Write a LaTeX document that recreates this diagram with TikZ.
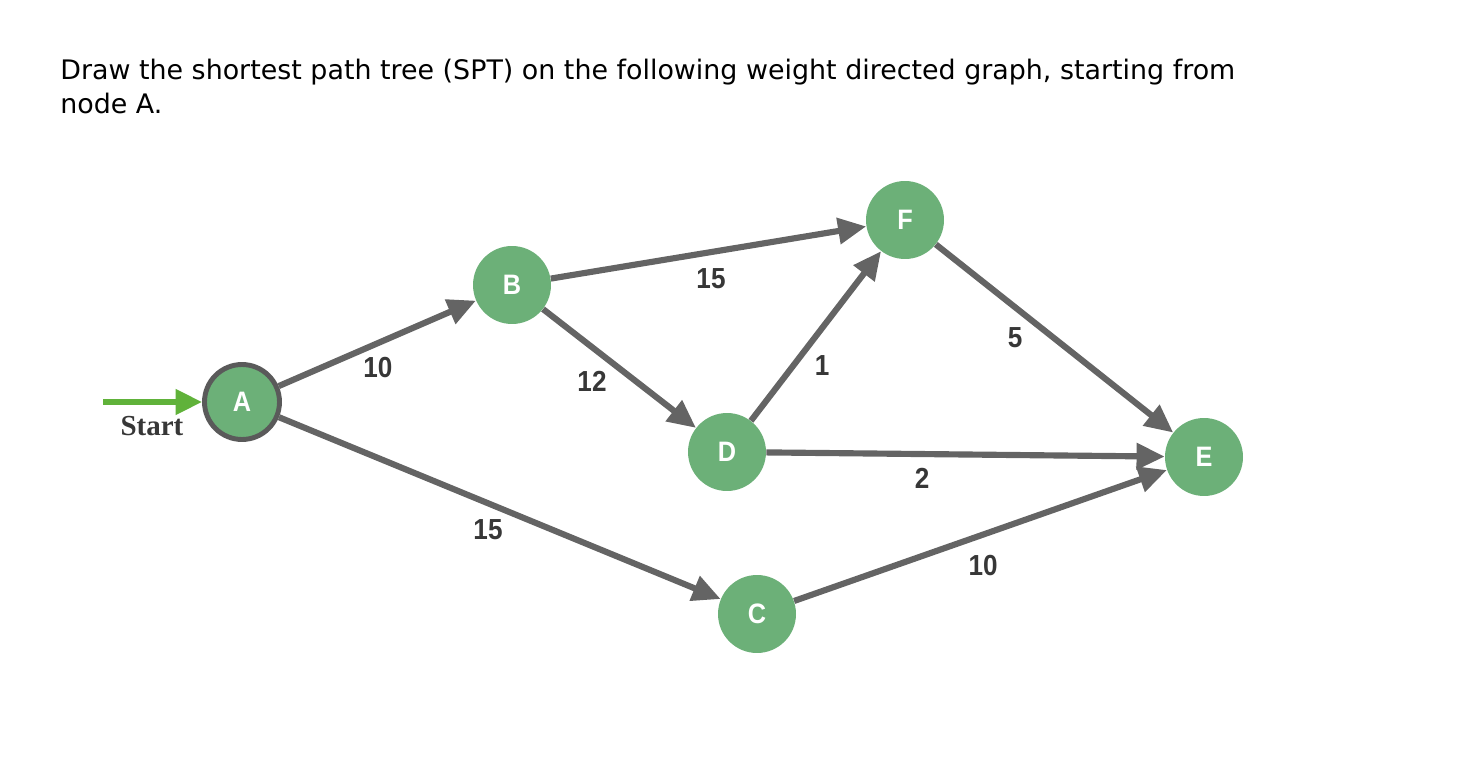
\documentclass[tikz,border=0pt]{standalone}
\usepackage{fontspec}
\setmainfont{DejaVu Sans}
\newfontfamily\lblfont[FakeStretch=0.9]{Liberation Sans}
\newfontfamily\startfont{Liberation Serif}
\usetikzlibrary{arrows.meta}
\definecolor{nodegreen}{RGB}{108,176,120}
\definecolor{edgegrey}{RGB}{100,100,100}
\definecolor{startgreen}{RGB}{96,178,58}
\definecolor{bordergrey}{RGB}{90,90,90}
\definecolor{textgrey}{RGB}{55,55,55}
\tikzset{
  vertex/.style={circle, fill=nodegreen, minimum size=1.56cm, inner sep=0pt,
    text=white, font=\lblfont\bfseries\fontsize{16}{16}\selectfont},
  startvertex/.style={vertex, draw=bordergrey, line width=2.8pt, minimum size=1.5cm},
  wedge/.style={draw=edgegrey, line width=3.5pt,
    -{Triangle[length=16pt,width=14.5pt]}},
  wlabel/.style={text=textgrey, font=\lblfont\bfseries\fontsize{16.5}{16.5}\selectfont, inner sep=0pt},
}
\begin{document}
\begin{tikzpicture}[x=0.02cm,y=-0.02cm]
\useasboundingbox (0,0) rectangle (1474,780);
\node[anchor=north west, inner sep=0pt, align=left, font=\fontsize{15.3}{19.4}\selectfont] (title) at (60,59)
  {Draw the shortest path tree (SPT) on the following weight directed graph, starting from\\node A.};
\node[startvertex] (A) at (242,402) {A};
\node[vertex] (B) at (512,285) {B};
\node[vertex] (F) at (905,220) {F};
\node[vertex] (D) at (727,452) {D};
\node[vertex] (E) at (1204,457) {E};
\node[vertex] (C) at (757,614) {C};
\coordinate (s) at (103,402);
\draw[draw=startgreen, line width=3pt, -{Triangle[length=15pt,width=14pt]}] (s) -- (A);
\node[text=textgrey, font=\startfont\bfseries\fontsize{16.5}{16.5}\selectfont, inner sep=0pt] (startlbl) at (152,426) {Start};
\draw[wedge] (A) -- (B);
\draw[wedge] (A) -- (C);
\draw[wedge] (B) -- (F);
\draw[wedge] (B) -- (D);
\draw[wedge] (D) -- (F);
\draw[wedge] (D) -- (E);
\draw[wedge] (F) -- (E);
\draw[wedge] (C) -- (E);
\node[wlabel] (l1) at (378,368) {10};
\node[wlabel] (l2) at (592,381) {12};
\node[wlabel] (l3) at (711,279) {15};
\node[wlabel] (l4) at (822,366) {1};
\node[wlabel] (l5) at (1015,338) {5};
\node[wlabel] (l6) at (922,478) {2};
\node[wlabel] (l7) at (488,530) {15};
\node[wlabel] (l8) at (983,566) {10};
\end{tikzpicture}
\end{document}
